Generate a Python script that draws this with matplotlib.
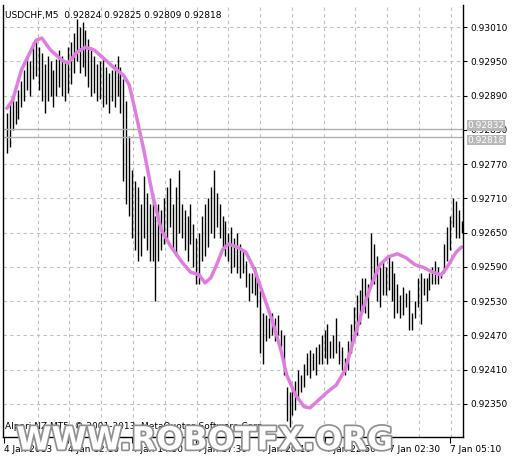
import numpy as np
import matplotlib.pyplot as plt
import matplotlib.patheffects as pe

# M5 bars: high / low prices
highs = [0.92860, 0.92875, 0.92890, 0.92880, 0.92900, 0.92915, 0.92935, 0.92960, 0.92950, 0.92985,
         0.92990, 0.92975, 0.92965, 0.92945, 0.92960, 0.92950, 0.92935, 0.92955, 0.92970, 0.92960,
         0.92950, 0.92975, 0.92985, 0.93000, 0.93025, 0.93010, 0.93020, 0.93005, 0.92990, 0.92975,
         0.92960, 0.92945, 0.92950, 0.92955, 0.92940, 0.92930, 0.92935, 0.92945, 0.92960, 0.92940,
         0.92920, 0.92880, 0.92820, 0.92760, 0.92740, 0.92730, 0.92700, 0.92750, 0.92720, 0.92700,
         0.92720, 0.92680, 0.92700, 0.92690, 0.92710, 0.92730, 0.92745, 0.92700, 0.92730, 0.92760,
         0.92700, 0.92690, 0.92680, 0.92700, 0.92665, 0.92640, 0.92650, 0.92680, 0.92700, 0.92710,
         0.92730, 0.92760, 0.92720, 0.92700, 0.92680, 0.92670, 0.92650, 0.92660, 0.92640, 0.92650,
         0.92630, 0.92620, 0.92600, 0.92580, 0.92580, 0.92590, 0.92570, 0.92550, 0.92510, 0.92505,
         0.92500, 0.92510, 0.92500, 0.92505, 0.92480, 0.92470, 0.92380, 0.92370, 0.92380, 0.92390,
         0.92410, 0.92400, 0.92420, 0.92440, 0.92445, 0.92440, 0.92450, 0.92455, 0.92470, 0.92480,
         0.92490, 0.92460, 0.92470, 0.92500, 0.92460, 0.92450, 0.92430, 0.92460, 0.92490, 0.92520,
         0.92540, 0.92550, 0.92570, 0.92570, 0.92560, 0.92650, 0.92630, 0.92610, 0.92590, 0.92600,
         0.92590, 0.92610, 0.92600, 0.92580, 0.92560, 0.92540, 0.92555, 0.92545, 0.92550, 0.92510,
         0.92530, 0.92570, 0.92580, 0.92570, 0.92570, 0.92580, 0.92590, 0.92600, 0.92590, 0.92580,
         0.92630, 0.92660, 0.92680, 0.92710, 0.92705, 0.92690, 0.92670]
lows = [0.92790, 0.92800, 0.92830, 0.92840, 0.92850, 0.92870, 0.92880, 0.92900, 0.92890, 0.92920,
        0.92925, 0.92900, 0.92880, 0.92860, 0.92880, 0.92890, 0.92870, 0.92890, 0.92905, 0.92890,
        0.92880, 0.92895, 0.92910, 0.92930, 0.92950, 0.92930, 0.92940, 0.92925, 0.92905, 0.92890,
        0.92895, 0.92880, 0.92885, 0.92870, 0.92875, 0.92860, 0.92880, 0.92870, 0.92890, 0.92860,
        0.92740, 0.92700, 0.92680, 0.92640, 0.92620, 0.92600, 0.92610, 0.92640, 0.92620, 0.92600,
        0.92600, 0.92530, 0.92600, 0.92620, 0.92630, 0.92640, 0.92660, 0.92620, 0.92610, 0.92650,
        0.92640, 0.92620, 0.92600, 0.92630, 0.92590, 0.92560, 0.92560, 0.92600, 0.92610, 0.92625,
        0.92650, 0.92640, 0.92660, 0.92640, 0.92620, 0.92610, 0.92600, 0.92580, 0.92590, 0.92580,
        0.92570, 0.92580, 0.92555, 0.92530, 0.92545, 0.92540, 0.92520, 0.92440, 0.92420, 0.92460,
        0.92465, 0.92470, 0.92460, 0.92470, 0.92450, 0.92400, 0.92320, 0.92310, 0.92330, 0.92340,
        0.92360, 0.92370, 0.92380, 0.92400, 0.92395, 0.92410, 0.92400, 0.92420, 0.92420, 0.92430,
        0.92420, 0.92430, 0.92430, 0.92440, 0.92420, 0.92410, 0.92400, 0.92410, 0.92440, 0.92460,
        0.92470, 0.92490, 0.92520, 0.92510, 0.92500, 0.92560, 0.92560, 0.92530, 0.92520, 0.92540,
        0.92540, 0.92550, 0.92530, 0.92500, 0.92510, 0.92500, 0.92505, 0.92520, 0.92480, 0.92480,
        0.92500, 0.92520, 0.92490, 0.92540, 0.92530, 0.92550, 0.92560, 0.92560, 0.92560, 0.92570,
        0.92580, 0.92600, 0.92620, 0.92660, 0.92640, 0.92640, 0.92650]

# moving average, read at selected bars
ma_bar = [0, 2, 5, 10, 12, 15, 19, 21, 24, 27, 30, 34, 37, 40, 42, 44, 47, 50, 53, 56, 60, 63, 66,
          68, 70, 72, 74, 76, 79, 82, 85, 88, 91, 94, 96, 99, 102, 104, 107, 110, 113, 116, 119,
          122, 125, 128, 131, 134, 137, 140, 143, 146, 149, 151, 154, 156]
ma_val = [0.92868, 0.92882, 0.92935, 0.92987, 0.92991, 0.92970, 0.92952, 0.92947, 0.92966, 0.92975,
          0.92970, 0.92952, 0.92938, 0.92926, 0.92909, 0.92865, 0.92795, 0.92716, 0.92655, 0.92628,
          0.92599, 0.92581, 0.92576, 0.92562, 0.92571, 0.92594, 0.92620, 0.92630, 0.92625, 0.92616,
          0.92585, 0.92541, 0.92497, 0.92445, 0.92401, 0.92366, 0.92345, 0.92343, 0.92357, 0.92371,
          0.92383, 0.92409, 0.92462, 0.92514, 0.92558, 0.92594, 0.92608, 0.92613, 0.92606, 0.92594,
          0.92589, 0.92581, 0.92576, 0.92589, 0.92615, 0.92625]

price_ticks = [0.92350, 0.92410, 0.92470, 0.92530, 0.92590, 0.92650, 0.92710, 0.92770,
               0.92830, 0.92890, 0.92950, 0.93010]
time_labels = ["4 Jan 2013", "4 Jan 12:10", "4 Jan 14:50", "4 Jan 17:30",
               "4 Jan 20:10", "4 Jan 22:50", "7 Jan 02:30", "7 Jan 05:10"]
time_bars = [-1, 21, 43, 65, 87, 109, 131, 152]

fig = plt.figure(figsize=(5.16, 4.57), dpi=100)
ax = fig.add_axes([3 / 516, 1 - 437 / 457, 460 / 516, 432 / 457])

n = len(highs)
x = np.arange(n)
ax.vlines(x, lows, highs, color="black", lw=1)
ax.plot(ma_bar, ma_val, color="#e07ee0", lw=2.5, solid_capstyle="round")

ax.axhline(0.92832, color="#b0b0b0", lw=1)
ax.axhline(0.92818, color="#b0b0b0", lw=1)

ax.set_xlim(-1.3, 156.5)
ax.set_ylim(0.92292, 0.93049)

ax.set_yticks(price_ticks)
ax.set_yticklabels([f"{p:.5f}" for p in price_ticks], fontsize=6.5)
ax.yaxis.tick_right()
ax.tick_params(axis="y", length=3, pad=2)
ax.set_xticks(time_bars)
ax.set_xticklabels(time_labels, fontsize=6.5, ha="left")
ax.tick_params(axis="x", length=4, pad=2)

gx = np.arange(10.6, 157, 10.9)
for g in gx:
    ax.axvline(g, color="#c0c0c0", lw=0.8, ls=(0, (3, 3)), zorder=0)
for p in price_ticks:
    if p != 0.92830:
        ax.axhline(p, color="#c0c0c0", lw=0.8, ls=(0, (3, 3)), zorder=0)

ax.spines["top"].set_visible(False)
for s in ["left", "bottom", "right"]:
    ax.spines[s].set_linewidth(1)

for val, yv in [(0.92832, 0.92838), (0.92818, 0.92812)]:
    ax.text(1.01, yv, f"{val:.5f}", transform=ax.get_yaxis_transform(), fontsize=6.5,
            color="white", va="center", ha="left",
            bbox=dict(facecolor="#b8b8b8", edgecolor="none", pad=0.5))

ax.text(0.005, 0.985, "USDCHF,M5  0.92824 0.92825 0.92809 0.92818", transform=ax.transAxes,
        fontsize=6.5, va="top", ha="left")
ax.text(0.005, 0.015, "Alpari NZ MT5, © 2001-2013, MetaQuotes Software Corp.",
        transform=ax.transAxes, fontsize=6.5, va="bottom", ha="left")

fig.text(205 / 516, 0.035, "WWW.ROBOTFX.ORG", fontsize=23, fontweight="bold", color="white",
         ha="center", va="center",
         path_effects=[pe.withStroke(linewidth=2.5, foreground="#909090")])

fig.savefig("out.png", dpi=100)
